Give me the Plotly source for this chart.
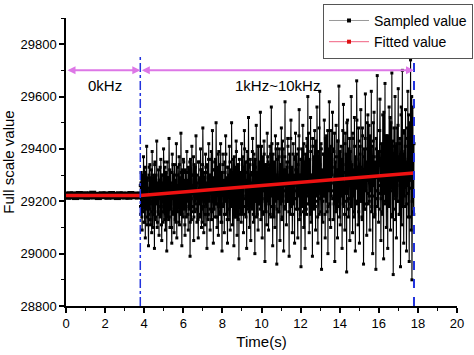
import numpy as np
import plotly.graph_objects as go

# ---------------- data ----------------
t_switch = 3.8      # s, start of 1kHz~10kHz vibration
t_end = 17.8        # s, end of record

# 0kHz segment (nearly constant)
sampled_0k = [29222, 29219, 29225, 29221, 29224, 29218, 29223, 29226, 29220, 29222,
              29225, 29219, 29221, 29224, 29227, 29220, 29223, 29218, 29222, 29225,
              29221, 29224, 29219, 29223, 29226, 29220, 29222, 29218, 29225, 29221,
              29224, 29220, 29223, 29219, 29226, 29222, 29221, 29224, 29220, 29223]

# 1kHz~10kHz segment, even samples
sampled_vib_a = [
    29260, 29150, 29310, 29190, 29090, 29280, 29230, 29370, 29120, 29200, 29330, 29060, 29250, 29180, 29410, 29140, 29290, 29220, 29030, 29300,
    29170, 29340, 29110, 29240, 29270, 29080, 29390, 29190, 29150, 29300, 29220, 29020, 29350, 29130, 29260, 29200, 29430, 29100, 29240, 29160,
    29320, 29070, 29210, 29280, 29140, 29360, 29180, 29050, 29300, 29250, 29120, 29400, 29200, 29160, 29330, 29090, 29270, 29230, 29010, 29350,
    29190, 29290, 29130, 29440, 29210, 29100, 29310, 29170, 29260, 29040, 29380, 29230, 29150, 29300, 29080, 29340, 29200, 29270, 29120, 29420,
    29060, 29250, 29330, 29180, 29210, 29370, 29110, 29290, 29150, 29460, 29200, 29030, 29320, 29240, 29140, 29350, 29190, 29280, 29070, 29310,
    29230, 29140, 29390, 29200, 29280, 29090, 29320, 29170, 29250, 28990, 29360, 29210, 29130, 29410, 29260, 29180, 29300, 29050, 29340, 29220,
    29160, 29300, 29450, 29190, 29120, 29270, 29230, 29060, 29350, 29200, 29290, 29140, 29400, 29250, 29100, 29320, 29170, 29480, 29210, 29080,
    29310, 29230, 29110, 29380, 29190, 29270, 29020, 29340, 29250, 29150, 29420, 29200, 29300, 29090, 29260, 29360, 29130, 29220, 29470, 29170,
    29040, 29290, 29210, 29350, 29140, 29260, 29500, 29190, 29100, 29330, 29240, 29070, 29390, 29280, 29160, 29230, 29420, 29120, 29300, 29010,
    29270, 29380, 29180, 29240, 29080, 29350, 29210, 29450, 29150, 29290, 29200, 29040, 29330, 29260, 29130, 29410, 29230, 29090, 29320, 29190,
    29500, 29220, 29110, 29300, 29250, 29030, 29370, 29180, 29280, 29140, 29430, 29230, 29070, 29340, 29200, 29290, 28980, 29360, 29240, 29150,
    29310, 29120, 29420, 29260, 29190, 29330, 29080, 29280, 29470, 29210, 29150, 29350, 29240, 29020, 29390, 29270, 29170, 29520, 29230, 29100,
    29280, 29360, 29050, 29250, 29310, 29170, 29440, 29220, 29120, 29380, 29270, 29000, 29330, 29200, 29490, 29240, 29150, 29300, 29090, 29410,
    29190, 29320, 29260, 29540, 29130, 29290, 29220, 29060, 29370, 29250, 29160, 29430, 29280, 28970, 29340, 29210, 29300, 29110, 29460, 29240,
    29350, 29090, 29280, 29200, 29410, 29250, 29140, 29560, 29230, 29310, 29030, 29380, 29270, 29180, 29330, 29100, 29450, 29240, 29290, 28960,
    29300, 29420, 29210, 29160, 29370, 29270, 29050, 29340, 29240, 29480, 29130, 29290, 29200, 29400, 29010, 29320, 29260, 29580, 29170, 29280,
    29110, 29350, 29250, 29440, 29200, 29300, 28990, 29380, 29270, 29150, 29510, 29230, 29330, 29080, 29290, 29420, 29190, 29260, 29040, 29370,
    29460, 29240, 29170, 29320, 29280, 29060, 29400, 29220, 29550, 29130, 29300, 29250, 28950, 29360, 29270, 29180, 29490, 29230, 29100, 29340,
    29260, 29020, 29380, 29290, 29150, 29440, 29230, 29600, 29190, 29310, 29080, 29360, 29270, 29520, 29120, 29300, 29240, 28990, 29410, 29210,
    29330, 29170, 29470, 29250, 29090, 29360, 29290, 29560, 29200, 29040, 29390, 29270, 29150, 29620, 29300, 29230, 29420, 28940, 29320, 29260,
    29120, 29380, 29290, 29510, 29220, 29060, 29340, 29270, 29450, 29160, 29310, 29000, 29400, 29250, 29580, 29190, 29330, 29100, 29470, 29240,
    29300, 29540, 29210, 29130, 29390, 29270, 28970, 29350, 29240, 29490, 29170, 29320, 29060, 29430, 29280, 29640, 29200, 29360, 29110, 29290,
    29410, 29250, 29020, 29340, 29300, 29570, 29180, 29270, 29090, 29460, 29230, 29380, 28930, 29320, 29510, 29210, 29140, 29400, 29280, 29050,
    29350, 29190, 29600, 29270, 29310, 29080, 29440, 29230, 29160, 29520, 29290, 29010, 29370, 29250, 29660, 29200, 29330, 29110, 29480, 29260,
    29040, 29380, 29280, 29550, 29200, 29320, 29130, 29450, 29260, 28960, 29400, 29300, 29170, 29610, 29240, 29350, 29070, 29500, 29280, 29190,
    29330, 29490, 29220, 29090, 29370, 29280, 29620, 29180, 29310, 29000, 29430, 29260, 29540, 29140, 29350, 29240, 28940, 29400, 29300, 29680,
    29210, 29360, 29120, 29470, 29280, 29590, 29230, 29050, 29390, 29310, 29160, 29530, 29260, 28980, 29420, 29290, 29650, 29200, 29340, 29100,
    29450, 29270, 29020, 29380, 29310, 29560, 29190, 29330, 29090, 29500, 29250, 29690, 29150, 29360, 28920, 29410, 29280, 29220, 29600, 29130,
    29340, 29060, 29480, 29290, 29200, 29630, 29320, 29150, 29420, 29260, 28950, 29530, 29300, 29110, 29700, 29240, 29380, 29040, 29460, 29270,
    29180, 29550, 29320, 29010, 29440, 29260, 29620, 29140, 29350, 28970, 29500, 29280, 29740, 29090, 29400, 28900, 29300, 29560, 29220, 29150,
]

# 1kHz~10kHz segment, odd samples
sampled_vib_b = [
    29180, 29270, 29210, 29140, 29300, 29240, 29160, 29290, 29200, 29120, 29260, 29310, 29170, 29230, 29110, 29280, 29190, 29250, 29150, 29330,
    29240, 29130, 29290, 29200, 29320, 29160, 29250, 29100, 29280, 29210, 29170, 29340, 29230, 29140, 29300, 29190, 29260, 29120, 29270, 29220,
    29150, 29280, 29230, 29330, 29180, 29250, 29110, 29300, 29200, 29270, 29160, 29240, 29350, 29130, 29260, 29210, 29310, 29170, 29230, 29140,
    29290, 29200, 29250, 29140, 29320, 29180, 29270, 29230, 29100, 29310, 29210, 29340, 29160, 29250, 29190, 29300, 29130, 29280, 29220, 29170,
    29260, 29160, 29300, 29230, 29120, 29340, 29200, 29270, 29180, 29310, 29240, 29150, 29290, 29210, 29360, 29170, 29250, 29110, 29320, 29200,
    29180, 29310, 29220, 29270, 29150, 29330, 29240, 29190, 29350, 29120, 29280, 29210, 29300, 29160, 29260, 29230, 29370, 29140, 29290, 29200,
    29330, 29210, 29260, 29170, 29300, 29230, 29130, 29350, 29190, 29280, 29240, 29150, 29320, 29200, 29270, 29120, 29340, 29220, 29180, 29290,
    29200, 29290, 29150, 29330, 29240, 29180, 29310, 29260, 29130, 29360, 29210, 29280, 29170, 29300, 29230, 29390, 29160, 29250, 29200, 29320,
    29280, 29170, 29320, 29230, 29360, 29190, 29260, 29140, 29300, 29240, 29380, 29180, 29270, 29210, 29340, 29150, 29290, 29230, 29120, 29310,
    29230, 29340, 29190, 29280, 29150, 29310, 29250, 29380, 29200, 29270, 29130, 29330, 29220, 29300, 29170, 29260, 29350, 29210, 29290, 29180,
    29310, 29200, 29270, 29360, 29160, 29290, 29230, 29140, 29330, 29250, 29390, 29190, 29280, 29220, 29130, 29340, 29260, 29180, 29300, 29240,
    29190, 29300, 29240, 29150, 29370, 29220, 29290, 29260, 29400, 29180, 29310, 29140, 29280, 29230, 29350, 29200, 29270, 29330, 29160, 29290,
    29340, 29220, 29300, 29180, 29270, 29390, 29240, 29150, 29320, 29260, 29200, 29360, 29230, 29290, 29140, 29310, 29250, 29410, 29190, 29280,
    29230, 29350, 29170, 29300, 29260, 29410, 29200, 29290, 29150, 29330, 29240, 29380, 29210, 29270, 29310, 29160, 29340, 29250, 29200, 29370,
    29290, 29190, 29340, 29250, 29150, 29380, 29270, 29220, 29420, 29180, 29310, 29260, 29140, 29350, 29230, 29300, 29200, 29400, 29250, 29170,
    29360, 29230, 29290, 29160, 29400, 29250, 29310, 29190, 29340, 29270, 29140, 29430, 29220, 29300, 29260, 29180, 29370, 29240, 29320, 29200,
    29250, 29330, 29200, 29410, 29270, 29160, 29350, 29290, 29230, 29440, 29180, 29310, 29260, 29150, 29380, 29240, 29300, 29210, 29360, 29270,
    29320, 29210, 29380, 29260, 29170, 29340, 29290, 29450, 29230, 29300, 29150, 29360, 29250, 29400, 29200, 29330, 29270, 29160, 29420, 29240,
    29200, 29350, 29280, 29170, 29410, 29260, 29310, 29220, 29460, 29190, 29330, 29270, 29150, 29390, 29240, 29300, 29200, 29440, 29280, 29180,
    29370, 29250, 29300, 29180, 29430, 29270, 29220, 29360, 29140, 29320, 29260, 29480, 29210, 29340, 29290, 29160, 29400, 29250, 29310, 29200,
    29260, 29380, 29220, 29310, 29150, 29440, 29280, 29200, 29350, 29260, 29470, 29180, 29330, 29240, 29300, 29130, 29410, 29270, 29220, 29360,
    29330, 29210, 29400, 29270, 29190, 29460, 29250, 29310, 29160, 29370, 29280, 29220, 29430, 29180, 29320, 29260, 29140, 29390, 29300, 29240,
    29220, 29360, 29280, 29470, 29190, 29310, 29250, 29150, 29420, 29270, 29340, 29200, 29500, 29230, 29300, 29170, 29380, 29260, 29440, 29210,
    29390, 29250, 29180, 29340, 29290, 29460, 29220, 29320, 29140, 29410, 29270, 29200, 29360, 29300, 29510, 29190, 29330, 29250, 29160, 29430,
    29270, 29410, 29200, 29330, 29250, 29140, 29480, 29290, 29220, 29370, 29310, 29170, 29440, 29260, 29320, 29190, 29400, 29280, 29530, 29230,
    29350, 29200, 29300, 29450, 29240, 29330, 29160, 29410, 29280, 29220, 29500, 29260, 29370, 29150, 29320, 29290, 29440, 29210, 29340, 29180,
    29240, 29390, 29290, 29170, 29470, 29260, 29340, 29210, 29420, 29300, 29150, 29380, 29270, 29540, 29230, 29330, 29190, 29450, 29280, 29360,
    29380, 29230, 29450, 29290, 29180, 29360, 29310, 29520, 29240, 29400, 29270, 29140, 29430, 29300, 29210, 29480, 29260, 29350, 29170, 29410,
    29260, 29420, 29310, 29200, 29490, 29280, 29370, 29150, 29440, 29300, 29230, 29560, 29270, 29390, 29180, 29340, 29290, 29470, 29220, 29360,
    29410, 29270, 29350, 29190, 29480, 29300, 29230, 29530, 29280, 29380, 29140, 29440, 29310, 29250, 29600, 29200, 29360, 29290, 29160, 29420,
]

fitted_t = [0, 3.8, 17.8]
fitted_v = [29222, 29222, 29308]

arrow_level = 29700
label_level = 29642
label_0k = "0kHz"
label_vib = "1kHz~10kHz"

# interleave the two sample lists into one record
sampled_vib = [v for pair in zip(sampled_vib_a, sampled_vib_b) for v in pair]

# sample instants
t_0k = np.linspace(0, t_switch, len(sampled_0k))
t_vib = np.linspace(t_switch, t_end, len(sampled_vib))

FONT = "Liberation Sans, Arial, sans-serif"
VIOLET = "#dd77e6"
BLUE = "#2233dd"

fig = go.Figure()

# 0kHz sampled band
fig.add_trace(go.Scatter(
    x=t_0k, y=sampled_0k, mode="lines+markers",
    line=dict(color="#222222", width=1),
    marker=dict(color="black", size=7, symbol="square"),
    showlegend=False, hoverinfo="skip"))

# vibrating sampled values
fig.add_trace(go.Scatter(
    x=t_vib, y=sampled_vib, mode="lines+markers",
    line=dict(color="#000000", width=1.1),
    marker=dict(color="black", size=3, symbol="square"),
    showlegend=False, hoverinfo="skip"))

# fitted line
fig.add_trace(go.Scatter(
    x=fitted_t, y=fitted_v, mode="lines",
    line=dict(color="#ee1111", width=3.5),
    showlegend=False, hoverinfo="skip"))

# legend proxies
fig.add_trace(go.Scatter(
    x=[None], y=[None], mode="lines+markers", name="Sampled value",
    line=dict(color="#999999", width=1),
    marker=dict(color="black", size=4, symbol="square")))
fig.add_trace(go.Scatter(
    x=[None], y=[None], mode="lines+markers", name="Fitted value",
    line=dict(color="#f06080", width=1),
    marker=dict(color="#dd1111", size=4, symbol="square")))

# vertical markers
fig.add_shape(type="line", x0=t_switch, x1=t_switch, y0=28800, y1=29760,
              line=dict(color=BLUE, width=1.5, dash="dashdot"))
fig.add_shape(type="line", x0=t_end, x1=t_end, y0=28800, y1=29890,
              line=dict(color=BLUE, width=2, dash="dash"))

# double-headed arrows
for (a, b) in [(0, t_switch), (t_switch, t_end)]:
    fig.add_annotation(x=b, y=arrow_level, ax=a, ay=arrow_level,
                       xref="x", yref="y", axref="x", ayref="y",
                       text="", showarrow=True, arrowhead=2, startarrowhead=2,
                       arrowside="end+start", arrowwidth=2, arrowsize=0.8,
                       startarrowsize=0.8, arrowcolor=VIOLET,
                       standoff=0, startstandoff=0)

fig.add_annotation(x=2.0, y=label_level, text=label_0k, showarrow=False,
                   font=dict(family=FONT, size=15, color="black"))
fig.add_annotation(x=10.8, y=label_level, text=label_vib, showarrow=False,
                   font=dict(family=FONT, size=15, color="black"))

axis_common = dict(showline=True, linecolor="black", linewidth=1.5,
                   ticks="outside", ticklen=5, tickwidth=1.5, tickcolor="black",
                   showgrid=False, zeroline=False, mirror=False, automargin=False,
                   tickformat="d",
                   tickfont=dict(family=FONT, size=13, color="black"))

fig.update_xaxes(range=[0, 20], dtick=2, tick0=0,
                 minor=dict(dtick=1, ticklen=3, tickwidth=1.2, tickcolor="black", ticks="outside"),
                 title=dict(text="Time(s)", font=dict(family=FONT, size=15, color="black"), standoff=6),
                 **axis_common)
fig.update_yaxes(range=[28800, 29900], dtick=200, tick0=28800,
                 minor=dict(dtick=100, ticklen=3, tickwidth=1.2, tickcolor="black", ticks="outside"),
                 title=dict(text="Full scale value", font=dict(family=FONT, size=15, color="black"), standoff=4),
                 **axis_common)

fig.update_layout(
    width=474, height=355,
    margin=dict(l=66, r=17, t=18, b=49, autoexpand=False),
    plot_bgcolor="white", paper_bgcolor="white",
    font=dict(family=FONT, color="black"),
    legend=dict(x=1.041, xanchor="right", y=1.049, yanchor="top",
                bgcolor="white", bordercolor="#555555", borderwidth=1,
                font=dict(family=FONT, size=14, color="black"),
                tracegroupgap=0, itemwidth=40),
)

fig.write_html("out.html", config={"displayModeBar": False},
               post_script="document.body.style.margin='0';document.body.style.overflow='hidden';")
